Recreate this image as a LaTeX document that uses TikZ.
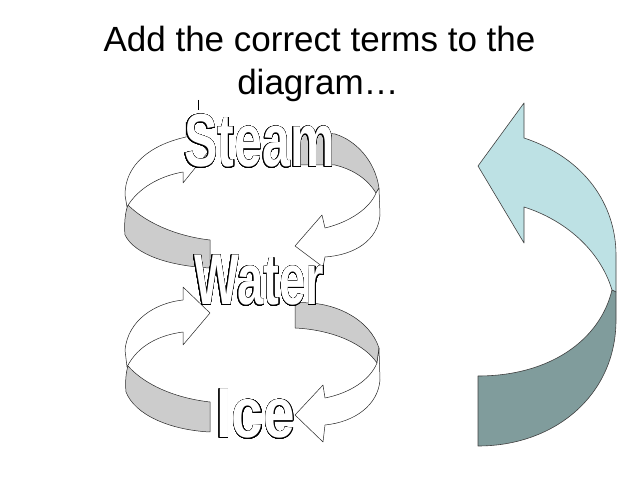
\documentclass[tikz,border=0pt]{standalone}
\usepackage{fontspec}
\setmainfont{Liberation Sans}
\usepackage{graphicx}
\usepackage[copies]{contour}
\contourlength{0.45pt}
\contournumber{32}
\definecolor{ribgray}{RGB}{204,204,204}
\definecolor{lightteal}{RGB}{189,225,228}
\definecolor{darkteal}{RGB}{128,156,156}
\begin{document}
\begin{tikzpicture}[x=1pt,y=-1pt,
  band/.style={draw=black!85, line width=0.5pt, line join=round},
  backband/.style={band, fill=ribgray},
  frontband/.style={band, fill=white},
  word/.style={inner sep=0pt, anchor=base west, text=white, font=\bfseries},
  bigarrow/.style={draw=black!75, line width=0.6pt, line join=round},
  titletext/.style={inner sep=0pt, anchor=base, font=\fontsize{35}{42}\selectfont}]
\useasboundingbox (0,0) rectangle (638,478);

% ---------- title ----------
\node[titletext] (t1) at (319.5,52) {Add the correct terms to the};
\node[titletext] (t2) at (318,95) {diagram…};

% ---------- right curved arrow ----------
\path[bigarrow, fill=lightteal] (524,138) -- (524,103) -- (478,166) -- (524,243) -- (524,207)
  .. controls (565,220) and (600,250) .. (612,290) -- (616,292) -- (616,255)
  .. controls (616,205) and (585,158) .. (524,138) -- cycle;
\path[bigarrow, fill=darkteal] (612,290) .. controls (600,340) and (550,376) .. (478,376)
  -- (478,446) .. controls (555,446) and (616,395) .. (616,320) -- (616,292) -- cycle;

% ---------- upper loop ----------
% back (gray) parts
\path[backband] (128,205) .. controls (145,222) and (175,236) .. (210,240) -- (210,268)
  .. controls (170,266) and (135,255) .. (125,235) .. controls (124,225) and (125,212) .. (128,205) -- cycle;
\path[backband] (300,130) -- (335,134) .. controls (355,140) and (375,160) .. (379,188)
  -- (376,193) .. controls (368,180) and (355,170) .. (335,165) -- (300,165) -- cycle;
% front (white) arrows
\path[frontband] (127,207) -- (125,195) .. controls (125,165) and (150,145) .. (186,137)
  -- (186,122) -- (208,152) -- (183,183) -- (183,172)
  .. controls (160,176) and (138,188) .. (127,207) -- cycle;
\path[frontband] (379,188) -- (380,215) .. controls (378,240) and (355,255) .. (325,257)
  -- (323,267) -- (295,246) -- (322,215) -- (325,228)
  .. controls (350,222) and (370,208) .. (376,193) -- cycle;

% ---------- lower loop ----------
\path[backband] (128,366) .. controls (145,385) and (175,398) .. (210,402) -- (210,432)
  .. controls (170,430) and (135,415) .. (126,392) .. controls (125,382) and (126,372) .. (128,366) -- cycle;
\path[backband] (295,303) .. controls (335,300) and (370,320) .. (379,348)
  -- (377,363) .. controls (365,345) and (335,330) .. (295,328) -- cycle;
\path[frontband] (127,367) -- (125,350) .. controls (128,320) and (155,303) .. (183,300)
  -- (183,287) -- (210,313) -- (183,345) -- (183,332)
  .. controls (160,335) and (138,345) .. (127,367) -- cycle;
\path[frontband] (379,348) -- (380,380) .. controls (378,405) and (355,422) .. (325,425)
  -- (323,442) -- (295,415) -- (323,385) -- (325,398)
  .. controls (350,393) and (370,380) .. (377,363) -- cycle;

% ---------- words ----------
\draw[black, line width=0.7pt] (198,100) -- (198,110);
\node[word] (steam) at (184,167) {\fontsize{75}{80}\selectfont\contour{black}{\scalebox{0.67}[1]{Steam}}};
\node[word] (water) at (194,305) {\fontsize{72}{78}\selectfont\contour{black}{\scalebox{0.66}[1]{Water}}};
\node[word] (ice) at (216,438) {\fontsize{71}{76}\selectfont\contour{black}{\scalebox{0.8}[1]{Ice}}};
\end{tikzpicture}
\end{document}
